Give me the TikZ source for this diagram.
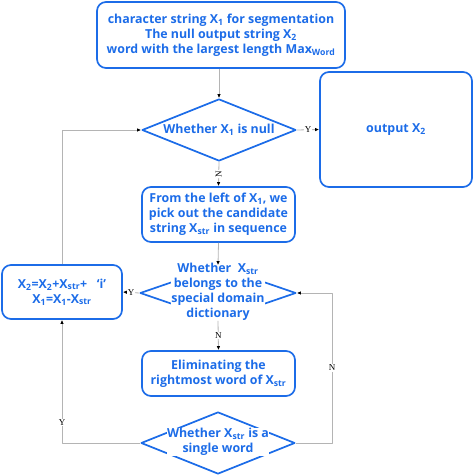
\documentclass[tikz,border=0pt]{standalone}
\usepackage{fontspec}
\setmainfont{Open Sans}
\newfontfamily\lblfont{Liberation Serif}
\usetikzlibrary{shapes.geometric,arrows.meta}
\definecolor{flowblue}{RGB}{28,108,232}
\definecolor{linegray}{RGB}{180,180,180}
\newcommand{\sbs}[1]{\textsubscript{#1}}
\begin{document}
\begin{tikzpicture}[x=1pt,y=1pt,font=\bfseries\fontsize{12.4}{15}\selectfont, line join=round,
		box/.style={draw=flowblue,line width=1.7pt,rounded corners=9pt,text=flowblue,align=center,inner sep=0pt},
		dmd/.style={draw=flowblue,line width=1.7pt,diamond,inner sep=0pt},
		dtxt/.style={fill=white,text=flowblue,align=center,inner sep=0.5pt},
		con/.style={draw=linegray,line width=0.8pt,-{Latex[black,length=4pt,width=3.5pt]}},
		lbl/.style={font=\lblfont\fontsize{9}{9}\selectfont,text=black,fill=white,inner sep=0.6pt}]
	\useasboundingbox (0,0) rectangle (474,475);
	\node[box,minimum width=248,minimum height=66] (init) at (221,440) {character string X\sbs{1} for segmentation\\The null output string X\sbs{2}\\word with the largest length Max\sbs{Word}};
	\node[dmd,minimum width=154,minimum height=62] (nul) at (219,345) {};
	\node[dtxt] (nult) at (nul.center) {Whether X\sbs{1} is null};
	\node[box,minimum width=152,minimum height=115] (out) at (396,345.5) {output X\sbs{2}};
	\node[box,minimum width=153,minimum height=55] (pick) at (218.5,260.5) {From the left of X\sbs{1}, we\\pick out the candidate\\string X\sbs{str} in sequence};
	\node[dmd,minimum width=156,minimum height=54] (dict) at (218,182) {};
	\node[dtxt] (dictt) at (218,183) {Whether\ \ X\sbs{str}\\belongs to the\\special domain\\dictionary};
	\node[box,minimum width=120,minimum height=54] (upd) at (62,183) {X\sbs{2}=X\sbs{2}+X\sbs{str}+\ \ \ ‘i’\\X\sbs{1}=X\sbs{1}-X\sbs{str}};
	\node[box,minimum width=153,minimum height=45] (elim) at (218.5,101.5) {Eliminating the\\rightmost word of X\sbs{str}};
	\node[dmd,minimum width=154,minimum height=62] (single) at (218,32) {};
	\node[dtxt] (singlet) at (218,33) {Whether X\sbs{str} is a\\single word};
	\coordinate (rx) at (332,0);
	% connectors
	\draw[con] (init.south -| nul.north) -- (nul.north);
	\draw[con] (nul.east) -- node[lbl]{Y} (out.west);
	\draw[con] (nul.south) -- node[lbl,rotate=90]{N} (pick.north);
	\draw[con] (pick.south) -- (dict.north);
	\draw[con] (dict.west) -- node[lbl]{Y} (upd.east);
	\draw[con] (dict.south) -- node[lbl]{N} (elim.north);
	\draw[con] (single.east) -| node[lbl,pos=0.75]{N} (rx |- dict.east) -- (dict.east);
	\draw[con] (single.west) -| node[lbl,pos=0.585]{Y} (upd.south);
	\draw[con] (upd.north) |- (nul.west);
\end{tikzpicture}
\end{document}
